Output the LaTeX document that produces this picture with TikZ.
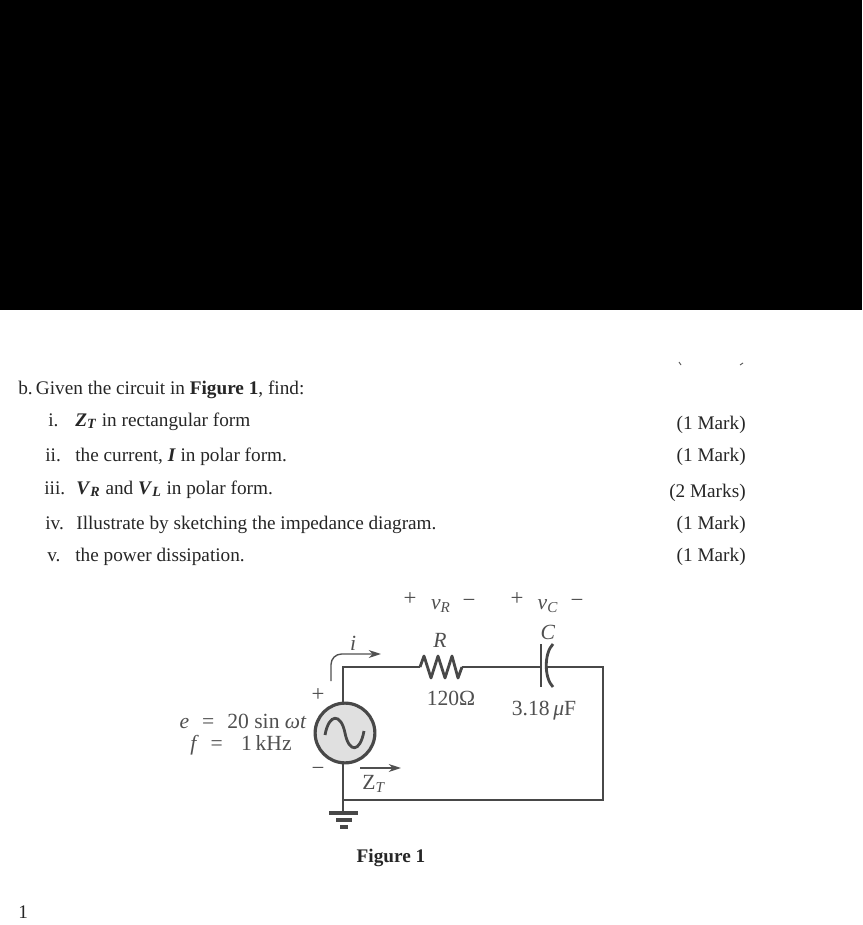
\documentclass[tikz,border=0pt]{standalone}
\usepackage{fontspec}
\usepackage{xcolor}
\setmainfont{Liberation Serif}
\usetikzlibrary{arrows.meta, calc}

\definecolor{inktext}{HTML}{262626}
\definecolor{inkwire}{HTML}{484848}
\definecolor{inklabel}{HTML}{505050}
\newcommand{\boldsub}[2]{\textbf{\textit{#1}}\textsubscript{\textbf{\textit{#2}}}}

\tikzset{
    linetext/.style={anchor=base west, inner sep=0pt, text=inktext, font=\fontsize{10.95}{12}\selectfont},
    marktext/.style={anchor=base east, inner sep=0pt, text=inktext, font=\fontsize{10.95}{12}\selectfont},
    circlabel/.style={inner sep=0pt, text=inklabel, font=\fontsize{12.3}{14}\selectfont},
    signlabel/.style={inner sep=0pt, text=inklabel, font=\fontsize{13}{14}\selectfont},
    wire/.style={draw=inkwire, line width=1.1pt},
    partline/.style={draw=inkwire, line width=1.6pt},
    thinarrow/.style={draw=inklabel, line width=0.8pt, -{Stealth[length=7pt, width=4.5pt]}}
}

\begin{document}
\begin{tikzpicture}[x=0.02cm, y=-0.02cm]
\useasboundingbox (0, 0) rectangle (862, 925);
\fill[white] (0, 0) rectangle (862, 925);
\fill[black] (0, 0) rectangle (862, 310);

    % question
    \node[linetext] (Q) at (18, 394) {b.\,Given the circuit in \textbf{Figure 1}, find:};
    \node[linetext] (Q_i) at (48, 426) {i.};
    \node[linetext] (T_i) at (75, 426) {\boldsub{Z}{T} in rectangular form};
    \node[linetext] (Q_ii) at (45, 461) {ii.};
    \node[linetext] (T_ii) at (75, 461) {the current, \textbf{\textit{I}} in polar form.};
    \node[linetext] (Q_iii) at (44, 494) {iii.};
    \node[linetext] (T_iii) at (76, 494) {\boldsub{V}{R} and \boldsub{V}{L} in polar form.};
    \node[linetext] (Q_iv) at (45, 529) {iv.};
    \node[linetext] (T_iv) at (76, 529) {Illustrate by sketching the impedance diagram.};
    \node[linetext] (Q_v) at (47, 561) {v.};
    \node[linetext] (T_v) at (75, 561) {the power dissipation.};
    % marks
    \node[marktext] (M_i) at (746, 429) {(1 Mark)};
    \node[marktext] (M_ii) at (746, 461) {(1 Mark)};
    \node[marktext] (M_iii) at (746, 497) {(2 Marks)};
    \node[marktext] (M_iv) at (746, 529) {(1 Mark)};
    \node[marktext] (M_v) at (746, 561) {(1 Mark)};
    \node[linetext] (Page) at (18, 918) {1};
    % specks
    \draw[inklabel, line width=0.5pt] (679, 362) -- (681, 365);
    \draw[inklabel, line width=0.5pt] (740, 365) -- (743, 363);

    % source
    \node[circle, draw=inkwire, line width=1.8pt, fill=black!12, minimum size=34pt, inner sep=0pt] (E) at (345, 733) {};
    \draw[partline] (325, 735) .. controls (329, 713) and (341, 713) .. (345, 733)
        .. controls (349, 753) and (360, 753) .. (364, 731);
    \coordinate (TL) at (343, 667);
    \coordinate (TR) at (603, 667);
    \coordinate (BR) at (603, 800);
    \coordinate (BL) at (343, 800);
    \coordinate (GND) at (343, 813);
    \coordinate (R_A) at (420, 667);
    \coordinate (R_B) at (462, 667);
    \coordinate (C_A) at (541, 667);
    \coordinate (C_B) at (546, 667);

    % wires
    \draw[wire] (E.north -| TL) -- (TL) -- (R_A);
    \draw[wire] (R_B) -- (C_A);
    \draw[wire] (C_B) -- (TR) -- (BR) -- (BL);
    \draw[wire] (E.south -| TL) -- (GND);
    % resistor
    \draw[partline, line join=round] (R_A) -- ++(4, -11) -- ++(7, 22) -- ++(7, -22)
        -- ++(7, 22) -- ++(7, -22) -- ++(6, 22) -- (R_B);
    % capacitor
    \draw[partline] (541, 644) -- (541, 687);
    \draw[partline] (553, 644) .. controls (544, 653) and (544, 678) .. (553, 687);
    % ground
    \draw[inkwire, line width=2pt] (329, 813) -- (358, 813);
    \draw[inkwire, line width=2pt] (336, 820) -- (352, 820);
    \draw[inkwire, line width=2pt] (340, 827) -- (348, 827);

    % arrows
    \coordinate (I_S) at (331, 681);
    \coordinate (I_E) at (381, 654);
    \coordinate (Z_S) at (360, 768);
    \coordinate (Z_E) at (401, 768);
    \draw[thinarrow, rounded corners=6pt] (I_S) -- (I_S |- I_E) -- (I_E);
    \draw[thinarrow] (Z_S) -- (Z_E);

    % labels
    \node[signlabel] (P_S) at (318, 695) {+};
    \node[signlabel] (N_S) at (318, 771) {−};
    \node[signlabel] (P_R) at (410, 599) {+};
    \node[circlabel] (V_R) at (441, 606) {\textit{v}\textsubscript{\textit{R}}};
    \node[signlabel] (N_R) at (469, 603) {−};
    \node[signlabel] (P_C) at (517, 599) {+};
    \node[circlabel] (V_C) at (548, 606) {\textit{v}\textsubscript{\textit{C}}};
    \node[signlabel] (N_C) at (577, 603) {−};
    \node[circlabel] (L_C) at (548, 632) {\textit{C}};
    \node[circlabel] (L_R) at (440, 640) {\textit{R}};
    \node[circlabel] (L_I) at (353, 643) {\textit{i}};
    \node[circlabel] (V_Rval) at (451, 698) {120Ω};
    \node[circlabel] (V_Cval) at (544, 711) {3.18\,\textit{μ}F};
    \node[circlabel, anchor=base east] (L_E) at (307, 728) {\textit{e}\hspace{0.6em}=\hspace{0.6em}20 sin \textit{ωt}};
    \node[circlabel, anchor=base east] (L_F) at (292, 750) {\textit{f}\hspace{0.55em}=\hspace{0.85em}1\,kHz};
    \node[circlabel] (L_Z) at (374, 784) {Z\textsubscript{\textit{T}}};
    \node[linetext, anchor=base] (Fig) at (391, 862) {\textbf{Figure 1}};
\end{tikzpicture}
\end{document}
